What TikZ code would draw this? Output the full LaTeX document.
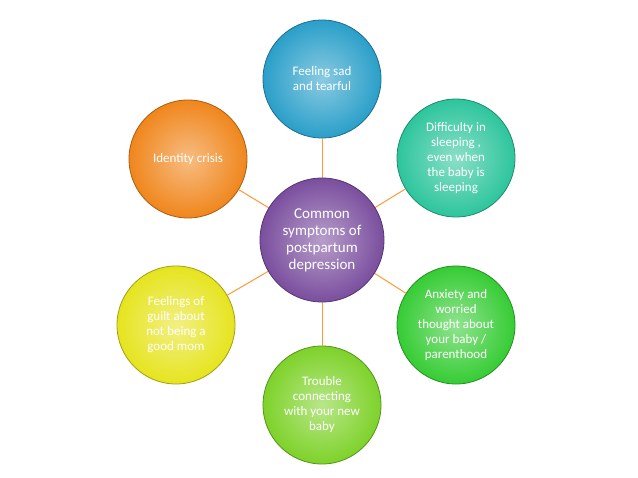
\documentclass[tikz,border=0pt]{standalone}
\usepackage{fontspec}
\setmainfont{Carlito}
\begin{document}
\begin{tikzpicture}[x=1pt,y=-1pt,
  bub/.style={circle,minimum size=118pt,inner sep=0pt,text=white,align=center,font=\fontsize{13}{15}\selectfont,draw=#1!70!black,line width=0.8pt,inner color=#1!55!white,outer color=#1},
  link/.style={draw=orange!80!white,line width=1pt}]
\useasboundingbox[fill=white] (0,0) rectangle (638,478);
\definecolor{cA}{HTML}{2A9FC9}\definecolor{cB}{HTML}{2DC59C}\definecolor{cC}{HTML}{36CC34}
\definecolor{cD}{HTML}{7ED22A}\definecolor{cE}{HTML}{E6E41E}\definecolor{cF}{HTML}{F0861C}
\definecolor{cM}{HTML}{7A4E9E}
\coordinate (c0) at (322,240);
\node[bub=cA] (a) at (322,79) {Feeling sad\\and tearful};
\node[bub=cB] (b) at (456,158) {Difficulty in\\sleeping ,\\even when\\the baby is\\sleeping};
\node[bub=cC] (c) at (456,325) {Anxiety and\\worried\\thought about\\your baby /\\parenthood};
\node[bub=cD] (d) at (322,405) {Trouble\\connecting\\with your new\\baby};
\node[bub=cE] (e) at (176,325) {Feelings of\\guilt about\\not being a\\good mom};
\node[bub=cF] (f) at (188,159) {Identity crisis};
\foreach \n in {a,b,c,d,e,f} \draw[link] (c0) -- (\n);
\node[bub=cM,minimum size=124pt,font=\fontsize{15}{17}\selectfont] (m) at (c0) {Common\\symptoms of\\postpartum\\depression};
\end{tikzpicture}
\end{document}
